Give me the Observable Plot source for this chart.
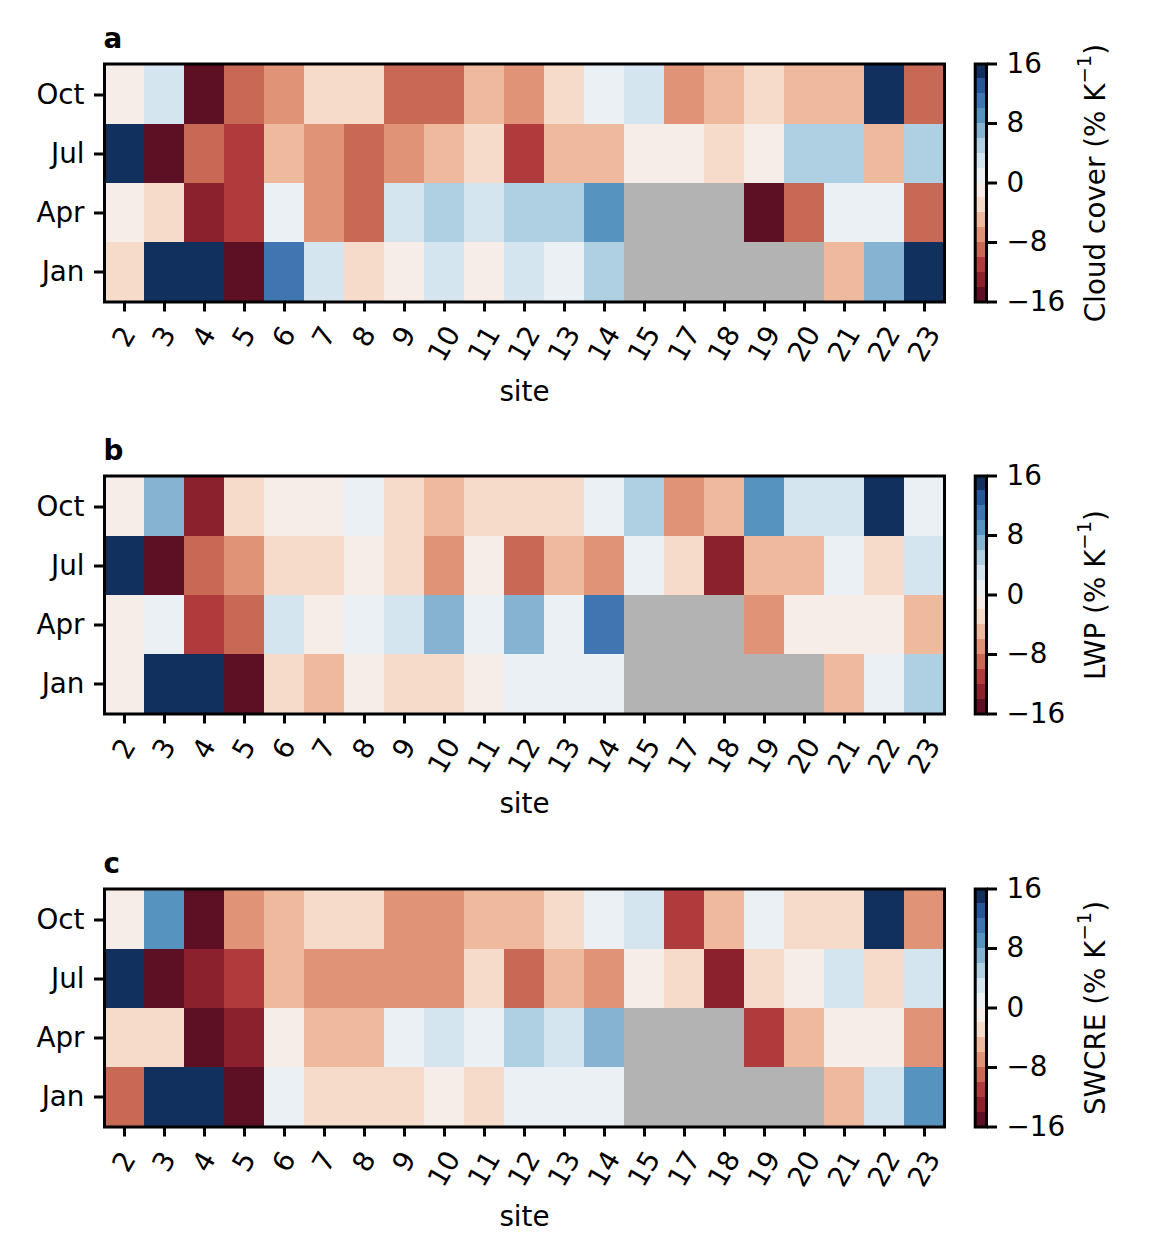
<!DOCTYPE html>
<html>
<head>
<meta charset="utf-8">
<script src="https://cdn.jsdelivr.net/npm/d3@7"></script>
<script src="https://cdn.jsdelivr.net/npm/@observablehq/plot@0.6"></script>
<style>
  html, body { margin: 0; padding: 0; background: #fff; }
  #fig { position: relative; width: 1168px; height: 1244px; background: #fff; font-family: "DejaVu Sans", sans-serif; }
  .panel { position: absolute; left: 0; width: 1168px; height: 412px; }
  .panel svg { position: absolute; top: 0; overflow: visible; }
</style>
</head>
<body>
<div id="fig"></div>
<script>
// Sites along the x axis and months down the y axis (top to bottom)
const sites = [2, 3, 4, 5, 6, 7, 8, 9, 10, 11, 12, 13, 14, 15, 17, 18, 19, 20, 21, 22, 23];
const months = ["Oct", "Jul", "Apr", "Jan"];

// Sensitivities in % per K; rows follow `months`, columns follow `sites`; null = no data
const cloudCover = [
  [-0.8, 3.1, -18.5, -9.2, -7.1, -2.9, -3.3, -8.7, -9.4, -4.6, -6.8, -2.5, 1.2, 2.6, -7.4, -5.1, -3.0, -4.8, -5.3, 21.4, -9.0],
  [24.7, -19.3, -8.9, -11.2, -5.2, -6.6, -9.1, -7.0, -4.9, -3.1, -11.6, -4.7, -5.4, -1.1, -0.9, -2.7, -0.6, 4.9, 5.3, -5.0, 4.6],
  [-1.3, -3.4, -12.8, -10.9, 0.9, -7.2, -8.5, 2.8, 4.4, 3.3, 5.1, 4.7, 9.1, null, null, null, -17.6, -9.3, 1.1, 0.6, -8.8],
  [-3.6, 19.8, 22.3, -16.9, 11.2, 2.9, -3.2, -0.7, 3.4, -1.0, 2.5, 1.5, 5.6, null, null, null, null, null, -5.6, 7.3, 17.2]
];
const lwp = [
  [-1.2, 6.9, -13.1, -3.3, -0.8, -1.0, 0.7, -2.6, -5.5, -3.0, -2.8, -3.5, 1.3, 4.8, -7.3, -4.4, 9.2, 3.0, 2.7, 18.6, 0.9],
  [20.1, -17.4, -8.6, -7.5, -3.2, -2.9, -1.4, -3.6, -7.8, -0.9, -9.6, -5.2, -6.9, 1.0, -2.2, -13.4, -4.9, -5.6, 0.8, -3.1, 2.9],
  [-1.1, 0.6, -11.3, -8.8, 2.7, -0.7, 1.4, 3.2, 7.1, 1.0, 6.6, 0.5, 10.8, null, null, null, -6.9, -1.5, -0.9, -1.2, -4.5],
  [-0.6, 23.5, 18.9, -15.8, -3.1, -4.6, -1.3, -3.4, -2.6, -0.8, 0.4, 1.1, 0.8, null, null, null, null, null, -5.1, 1.6, 5.2]
];
const swcre = [
  [-0.7, 8.8, -16.4, -7.2, -5.3, -3.1, -3.6, -6.5, -6.9, -4.8, -5.0, -2.4, 1.5, 3.1, -10.7, -4.3, 0.9, -2.8, -3.3, 20.6, -7.4],
  [22.9, -18.2, -12.6, -11.0, -4.6, -7.3, -6.8, -7.6, -6.3, -2.9, -9.3, -4.9, -7.0, -1.2, -3.5, -13.0, -2.6, -0.9, 3.4, -3.0, 2.4],
  [-3.2, -2.7, -15.9, -12.3, -1.0, -5.4, -4.6, 1.2, 3.3, 0.8, 4.5, 2.6, 6.4, null, null, null, -10.4, -4.9, -0.6, -1.4, -7.1],
  [-9.4, 21.2, 17.6, -17.1, 0.7, -3.3, -2.9, -3.6, -1.1, -2.5, 1.2, 0.6, 1.4, null, null, null, null, null, -5.2, 3.0, 9.5]
];

// Discrete diverging colour map: 16 steps of 2 % K⁻¹ between −16 and 16
const levels = [-16, -14, -12, -10, -8, -6, -4, -2, 0, 2, 4, 6, 8, 10, 12, 14, 16];
const levelColors = [
  "#5d1023", "#8b212c", "#b03b3c", "#c86956", "#e09377", "#efb99e", "#f6dbca", "#f6ede8",
  "#eaf0f4", "#d4e5ef", "#afd0e2", "#87b3d3", "#5793bf", "#3f75b0", "#275799", "#12305e"
];
const colorbarTicks = [-16, -8, 0, 8, 16];
const missingColor = "#b3b3b3";

// Colour bar titles; the unit K⁻¹ is set with a raised exponent after rendering
const unit = "% K";
const unitExponent = "−1";
const panels = [
  {letter: "a", quantity: "Cloud cover", values: cloudCover, top: 0},
  {letter: "b", quantity: "LWP", values: lwp, top: 412.3},
  {letter: "c", quantity: "SWCRE", values: swcre, top: 824.5}
];

const FONT = 27.8;
const LINE = 3;
const panelHeight = 412;
const marginTop = 63.5;
const frameHeight = 238;
const marginBottom = panelHeight - marginTop - frameHeight;

const colorScale = {type: "threshold", domain: levels.slice(1, -1), range: levelColors};
const style = {fontFamily: "DejaVu Sans", fontSize: `${FONT}px`, color: "black", background: "transparent", overflow: "visible"};

const fig = document.getElementById("fig");

for (const p of panels) {
  const cells = months.flatMap((m, r) => sites.map((s, c) => ({site: s, month: m, value: p.values[r][c]})));

  const heat = Plot.plot({
    width: 960,
    height: panelHeight,
    marginLeft: 104,
    marginRight: 16,
    marginTop,
    marginBottom,
    style,
    x: {type: "band", domain: sites, padding: 0},
    y: {type: "band", domain: months, padding: 0},
    color: colorScale,
    marks: [
      Plot.cell(cells, {filter: d => d.value == null, x: "site", y: "month", fill: missingColor, shapeRendering: "crispEdges"}),
      Plot.cell(cells, {filter: d => d.value != null, x: "site", y: "month", fill: "value", shapeRendering: "crispEdges"}),
      Plot.frame({stroke: "black", strokeWidth: LINE}),
      Plot.axisY({tickSize: 10, tickPadding: 10, strokeWidth: LINE, label: null, fontSize: FONT}),
      Plot.axisX({tickSize: 10, strokeWidth: LINE, tickFormat: () => "", label: null}),
      // rotated site labels, one- and two-digit labels centred under their ticks
      Plot.text(sites, {filter: d => d < 10, x: d => d, text: d => String(d), frameAnchor: "bottom",
        rotate: -60, textAnchor: "middle", lineAnchor: "middle", dy: 35, fontSize: FONT}),
      Plot.text(sites, {filter: d => d >= 10, x: d => d, text: d => String(d), frameAnchor: "bottom",
        rotate: -60, textAnchor: "middle", lineAnchor: "middle", dy: 42, fontSize: FONT}),
      Plot.text(["site"], {text: d => d, frameAnchor: "bottom", lineAnchor: "bottom", dy: 99, fontSize: FONT}),
      Plot.text([p.letter], {text: d => d, frameAnchor: "top-left", textAnchor: "start", lineAnchor: "bottom",
        dx: -1, dy: -16.5, fontSize: FONT, fontWeight: "bold"})
    ]
  });

  const bins = levelColors.map((c, i) => ({lo: levels[i], hi: levels[i + 1]}));
  const title = `${p.quantity} (${unit}${unitExponent})`;
  const bar = Plot.plot({
    width: 208,
    height: panelHeight,
    marginLeft: 14.7,
    marginRight: 208 - 14.7 - 11.3,
    marginTop,
    marginBottom,
    style,
    x: {domain: [0, 1], axis: null},
    y: {domain: [levels[0], levels[levels.length - 1]]},
    color: colorScale,
    marks: [
      Plot.rect(bins, {x1: 0, x2: 1, y1: "lo", y2: "hi", fill: d => (d.lo + d.hi) / 2, shapeRendering: "crispEdges"}),
      Plot.frame({stroke: "black", strokeWidth: LINE}),
      Plot.axisY({anchor: "right", ticks: colorbarTicks, tickSize: 10, tickPadding: 10, strokeWidth: LINE, label: null, fontSize: FONT}),
      Plot.text([title], {text: d => d, frameAnchor: "right", rotate: -90, textAnchor: "middle", lineAnchor: "middle",
        dx: 110, fontSize: FONT})
    ]
  });

  // raise the exponent of K⁻¹ in the colour bar title
  for (const t of bar.querySelectorAll("text")) {
    if (t.textContent !== title) continue;
    const ns = "http://www.w3.org/2000/svg";
    const parts = [
      {text: `${p.quantity} (${unit}`},
      {text: unitExponent, dy: -14, size: 19.5},
      {text: ")", dy: 14}
    ];
    t.textContent = "";
    for (const part of parts) {
      const span = document.createElementNS(ns, "tspan");
      span.textContent = part.text;
      if (part.dy) span.setAttribute("dy", part.dy);
      if (part.size) span.setAttribute("font-size", part.size);
      t.appendChild(span);
    }
  }

  const div = document.createElement("div");
  div.className = "panel";
  div.style.top = `${p.top}px`;
  heat.style.left = "0px";
  bar.style.left = "960px";
  div.appendChild(heat);
  div.appendChild(bar);
  fig.appendChild(div);
}
</script>
</body>
</html>
